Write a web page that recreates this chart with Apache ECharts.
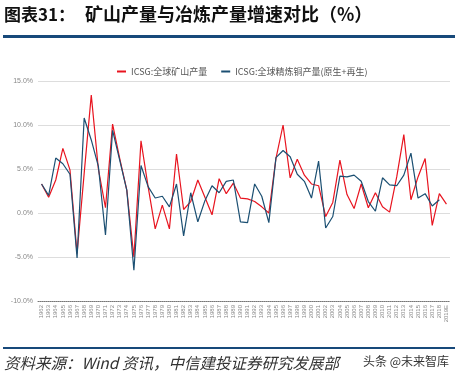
<!DOCTYPE html>
<html><head><meta charset="utf-8">
<script src="https://cdn.jsdelivr.net/npm/echarts@6/dist/echarts.min.js"></script>
<style>html,body{margin:0;padding:0;background:#fff}#c{width:458px;height:379px}</style>
</head><body><div id="c"></div>
<script>
const years = [];
for (let y = 1962; y <= 2018; y++) years.push(String(y));
years.push('2019E');
const mineName = 'ICSG:全球矿山产量';
const refinedName = 'ICSG:全球精炼铜产量(原生+再生)';
const mine = [3.3,1.8,3.75,7.35,4.9,-4.6,4.5,13.4,5.0,0.6,10.1,6.2,2.6,-5.0,8.2,3.0,-1.8,0.9,-1.8,6.7,0.4,1.3,3.75,1.8,-0.2,3.9,2.2,3.4,1.7,1.6,1.3,0.7,0.0,6.2,10.0,4.0,6.1,4.3,3.3,3.1,-0.4,1.2,6.0,2.1,0.5,3.3,0.6,2.3,0.7,0.1,4.1,8.9,1.5,4.1,6.2,-1.4,2.2,1.0];
const refined = [3.3,2.0,6.25,5.6,4.4,-5.1,10.8,8.3,5.3,-2.5,9.4,6.0,2.6,-6.5,5.4,3.0,1.7,1.9,0.7,3.3,-2.6,2.3,-1.0,1.4,3.1,2.3,3.6,3.75,-1.0,-1.1,3.3,1.9,-1.1,6.3,7.1,6.4,4.4,3.6,1.7,5.9,-1.7,-0.4,4.2,4.1,4.3,3.6,1.3,0.2,4.0,3.2,3.1,4.3,6.8,1.7,2.2,0.8,1.5,null];
const yTicks = [-10,-5,0,5,10,15];

const chart = echarts.init(document.getElementById('c'));
chart.setOption({
  backgroundColor: '#fff',
  animation: false,
  graphic: [
    {type:'text', left:4, top:6, style:{text:'图表31：', font:'bold 17px "Noto Sans CJK SC"', fill:'#111'}},
    {type:'text', left:85, top:5, style:{text:'矿山产量与冶炼产量增速对比（%）', font:'bold 18px "Noto Sans CJK SC"', fill:'#111'}},
    {type:'rect', shape:{x:3, y:35, width:452, height:3}, style:{fill:'#17497a'}},
    {type:'rect', shape:{x:3, y:347, width:452, height:2}, style:{fill:'#17497a'}},
    {type:'text', left:4, top:355, style:{text:'资料来源：Wind 资讯，中信建投证券研究发展部', font:'italic 15.5px "Noto Sans CJK SC"', fill:'#333'}},
    {type:'text', left:363, top:355, style:{text:'头条 @未来智库', font:'12px "Noto Sans CJK SC"', fill:'#333'}}
  ],
  legend: {
    top: 62, left: 112, itemGap: 14, itemWidth: 9, itemHeight: 2, icon: 'rect',
    textStyle: {fontSize: 9, color: '#555', fontFamily: '"Noto Sans CJK SC"'},
    data: [mineName, refinedName]
  },
  grid: {left: 38, right: 8, top: 81, bottom: 78},
  xAxis: {
    type: 'category', data: years, boundaryGap: true,
    axisLine: {onZero: false, lineStyle: {color: '#777', type: 'dotted'}},
    axisTick: {show: false},
    axisLabel: {rotate: 90, interval: 0, fontSize: 6, color: '#888', margin: 4}
  },
  yAxis: {
    type: 'value', min: yTicks[0], max: yTicks[yTicks.length-1], interval: 5,
    axisLine: {show: false}, axisTick: {show: false},
    splitLine: {lineStyle: {color: '#ddd'}},
    axisLabel: {fontSize: 7, color: '#888', margin: 5, formatter: v => v.toFixed(1) + '%'}
  },
  series: [
    {name: mineName, type: 'line', data: mine, symbol: 'none', lineStyle: {color: '#e8141f', width: 1.2}, itemStyle: {color: '#e8141f'}},
    {name: refinedName, type: 'line', data: refined, symbol: 'none', lineStyle: {color: '#1b4f72', width: 1.2}, itemStyle: {color: '#1b4f72'}}
  ]
});
</script></body></html>
